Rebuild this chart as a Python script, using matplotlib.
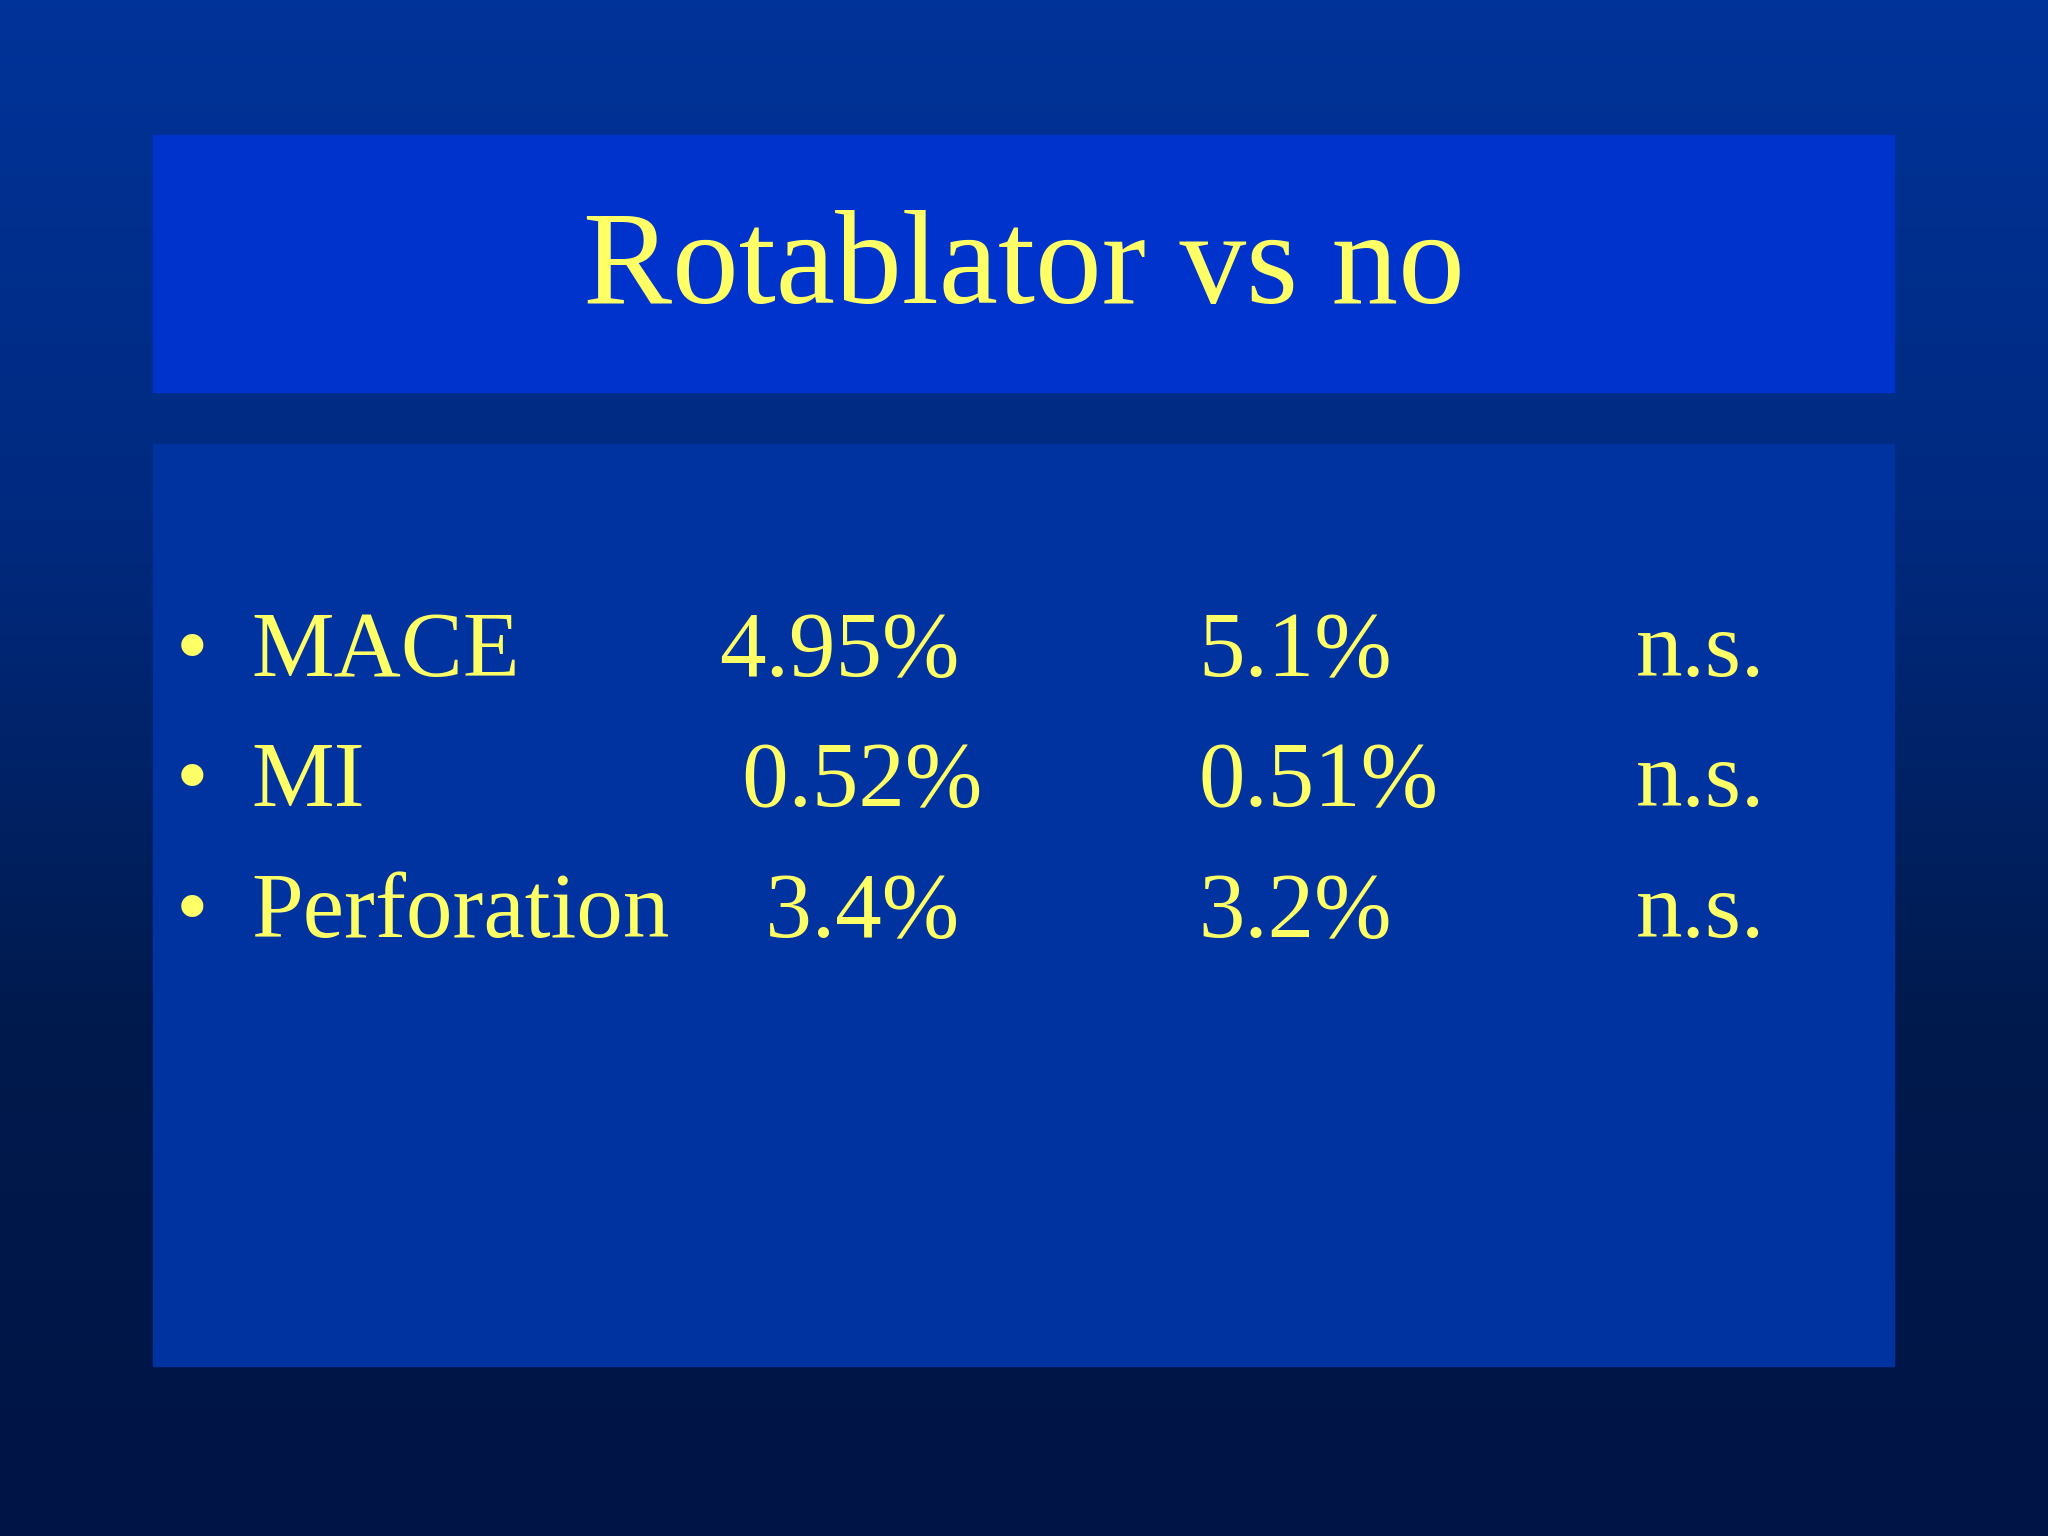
import numpy as np
import matplotlib
matplotlib.use("Agg")
import matplotlib.pyplot as plt
from matplotlib.colors import LinearSegmentedColormap
from matplotlib.patches import Rectangle

TITLE = "Rotablator vs no"
ROW_LABELS = ["MACE", "MI", "Perforation"]
COL_A = ["4.95%", " 0.52%", "  3.4%"]
COL_B = ["5.1%", "0.51%", "3.2%"]
COL_C = ["n.s.", "n.s.", "n.s."]

YELLOW = "#ffff66"
FONT = ["Liberation Serif", "DejaVu Serif"]

fig = plt.figure(figsize=(20.48, 15.36), dpi=100)
ax = fig.add_axes([0, 0, 1, 1])
ax.set_xlim(0, 1)
ax.set_ylim(1, 0)
ax.axis("off")

# background gradient
cmap = LinearSegmentedColormap.from_list("bg", ["#003399", "#002a80", "#001a4d", "#001445"])
grad = np.linspace(0, 1, 256).reshape(-1, 1)
ax.imshow(grad, cmap=cmap, aspect="auto", extent=[0, 1, 1, 0], zorder=0)

# title and body panels
ax.add_patch(Rectangle((0.0746, 0.088), 0.8504, 0.167, color="#0033cc", zorder=1))
ax.add_patch(Rectangle((0.0746, 0.289), 0.8504, 0.600, color="#0033a0", zorder=1))

ax.text(0.5, 0.176, TITLE, ha="center", va="center", fontsize=96,
        color=YELLOW, family=FONT, zorder=2)

row_y = [0.440, 0.525, 0.610]
for i, y in enumerate(row_y):
    ax.text(0.086, y, "\u2022", fontsize=67, color=YELLOW, family=FONT, va="baseline", zorder=2)
    ax.text(0.1225, y, ROW_LABELS[i], fontsize=67, color=YELLOW, family=FONT, va="baseline", zorder=2)
    ax.text(0.351, y, COL_A[i], fontsize=67, color=YELLOW, family=FONT, va="baseline", zorder=2)
    ax.text(0.585, y, COL_B[i], fontsize=67, color=YELLOW, family=FONT, va="baseline", zorder=2)
    ax.text(0.799, y, COL_C[i], fontsize=67, color=YELLOW, family=FONT, va="baseline", zorder=2)

fig.savefig("out.png", dpi=100)
